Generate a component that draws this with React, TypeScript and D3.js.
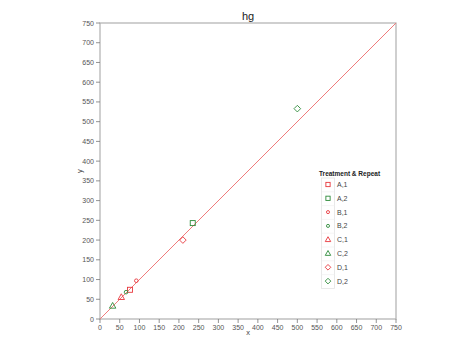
import React from "react";
import * as d3 from "d3";

const ticks = d3.range(0, 751, 50);
const series = ["A,1", "A,2", "B,1", "B,2", "C,1", "C,2", "D,1", "D,2"];
const xValues = [76, 235, 92, 66, 54, 32, 210, 500];
const yValues = [74, 243, 97, 68, 55, 33, 200, 533];
const shapes = ["square", "square", "circle", "circle", "triangle", "triangle", "diamond", "diamond"];
const colors = ["#e8383d", "#2e8b3a", "#e8383d", "#2e8b3a", "#e8383d", "#2e8b3a", "#e8383d", "#2e8b3a"];

const W = 474, H = 346;
const L = 100, R = 396, T = 23, B = 319;

function Marker({ shape, x, y, color, k = 1 }: { shape: string; x: number; y: number; color: string; k?: number }) {
  const sw = 0.9;
  if (shape === "square") return <rect x={x - 2.5 * k} y={y - 2.5 * k} width={5 * k} height={5 * k} fill="none" stroke={color} strokeWidth={sw} />;
  if (shape === "circle") return <circle cx={x} cy={y} r={1.8 * k} fill="none" stroke={color} strokeWidth={sw} />;
  if (shape === "triangle") return <path d={`M${x},${y - 3.5 * k}L${x + 3.2 * k},${y + 2.2 * k}L${x - 3.2 * k},${y + 2.2 * k}Z`} fill="none" stroke={color} strokeWidth={sw} />;
  return <path d={`M${x},${y - 3.3 * k}L${x + 3.3 * k},${y}L${x},${y + 3.3 * k}L${x - 3.3 * k},${y}Z`} fill="none" stroke={color} strokeWidth={sw} />;
}

export default function App() {
  const x = d3.scaleLinear().domain([0, 750]).range([L, R]);
  const y = d3.scaleLinear().domain([0, 750]).range([B, T]);
  const font = "Liberation Sans, Arial, sans-serif";
  const axisColor = "#b0b0b0";
  const lx = 328, ly0 = 184.5, lstep = 13.8;
  return (
    <svg width={W} height={H} style={{ position: "absolute", left: 0, top: 0 }} fontFamily={font}>
      <rect width={W} height={H} fill="#fff" />
      <text x={(L + R) / 2} y={20} textAnchor="middle" fontSize={11} fill="#222">hg</text>
      <rect x={L} y={T} width={R - L} height={B - T} fill="none" stroke={axisColor} strokeWidth={1.2} />
      <line x1={x(0)} y1={y(0)} x2={x(750)} y2={y(750)} stroke="#f07b7b" strokeWidth={1} />
      {ticks.map((t) => (
        <g key={"x" + t}>
          <line x1={x(t)} x2={x(t)} y1={B} y2={B + 4} stroke="#777" strokeWidth={0.8} />
          <text x={x(t)} y={B + 11} textAnchor="middle" fontSize={7} fill="#555">{t}</text>
        </g>
      ))}
      {ticks.map((t) => (
        <g key={"y" + t}>
          <line x1={L - 4} x2={L} y1={y(t)} y2={y(t)} stroke="#777" strokeWidth={0.8} />
          <text x={L - 6} y={y(t) + 2.5} textAnchor="end" fontSize={7} fill="#555">{t}</text>
        </g>
      ))}
      <text x={(L + R) / 2} y={335} textAnchor="middle" fontSize={7.5} fill="#444">x</text>
      <text transform={`translate(82,${(T + B) / 2}) rotate(-90)`} textAnchor="middle" fontSize={7.5} fill="#444">y</text>
      {series.map((s, i) => (
        <Marker key={s} shape={shapes[i]} x={x(xValues[i])} y={y(yValues[i])} color={colors[i]} />
      ))}
      <text x={319} y={176} fontSize={6.5} fontWeight="bold" fill="#222">Treatment &amp; Repeat</text>
      <rect x={321.5} y={178} width={13} height={lstep * series.length} fill="none" stroke="#e4e4e4" strokeWidth={0.8} />
      {series.map((s, i) => (
        <g key={"l" + s}>
          {i > 0 && <line x1={321.5} x2={334.5} y1={178 + lstep * i} y2={178 + lstep * i} stroke="#eeeeee" strokeWidth={0.6} />}
          <Marker shape={shapes[i]} x={lx} y={ly0 + lstep * i} color={colors[i]} k={0.85} />
          <text x={337} y={ly0 + lstep * i + 2.5} fontSize={7} fill="#444">{s}</text>
        </g>
      ))}
    </svg>
  );
}
